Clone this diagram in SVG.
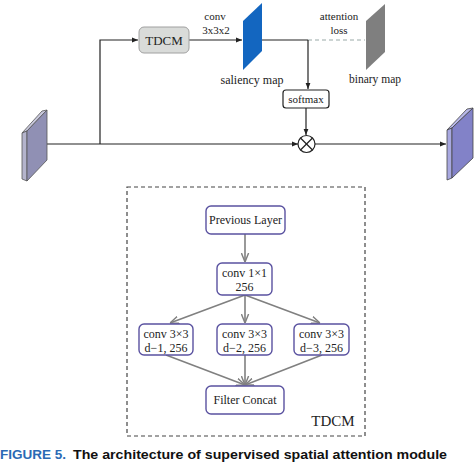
<svg xmlns="http://www.w3.org/2000/svg" width="474" height="463" viewBox="0 0 474 463">
<defs>
<marker id="ah" viewBox="0 0 10 10" refX="10" refY="5" markerWidth="6" markerHeight="6" orient="auto" markerUnits="userSpaceOnUse"><path d="M0,1 L10,5 L0,9 z" fill="#222"/></marker>
<marker id="ag" viewBox="0 0 10 10" refX="10" refY="5" markerWidth="9" markerHeight="9" orient="auto" markerUnits="userSpaceOnUse"><path d="M0,1 L10,5 L0,9" fill="none" stroke="#808080" stroke-width="1.6"/></marker>
</defs>
<style>
.t{font-family:"Liberation Serif","Times New Roman",serif;fill:#222;text-anchor:middle}
.ln{stroke:#222;stroke-width:1.2;fill:none}
.gl{stroke:#808080;stroke-width:1.6;fill:none}
.ib{fill:#fff;stroke:#5a52a0;stroke-width:1.4}
</style>
<rect width="474" height="463" fill="#fff"/>

<g id="connectors">
<line class="ln" x1="40" y1="144" x2="298" y2="144" marker-end="url(#ah)"/>
<polyline class="ln" points="100,144 100,40 138,40" marker-end="url(#ah)"/>
<line class="ln" x1="189" y1="40" x2="242" y2="40" marker-end="url(#ah)"/>
<line class="ln" x1="262" y1="40" x2="308" y2="40"/>
<line x1="308" y1="40" x2="365" y2="40" stroke="#9aaaa8" stroke-width="1.2" stroke-dasharray="4,3"/>
<line class="ln" x1="308" y1="40" x2="308" y2="89" marker-end="url(#ah)"/>
<line class="ln" x1="306" y1="108" x2="306" y2="135" marker-end="url(#ah)"/>
<line class="ln" x1="315" y1="144" x2="446" y2="144" marker-end="url(#ah)"/>
<line class="gl" x1="245" y1="234" x2="245" y2="262" marker-end="url(#ag)"/>
<line class="gl" x1="245" y1="295" x2="170" y2="323" marker-end="url(#ag)"/>
<line class="gl" x1="245" y1="295" x2="245" y2="323" marker-end="url(#ag)"/>
<line class="gl" x1="245" y1="295" x2="320" y2="323" marker-end="url(#ag)"/>
<line class="gl" x1="166" y1="355" x2="245" y2="385" marker-end="url(#ag)"/>
<line class="gl" x1="245" y1="355" x2="245" y2="385" marker-end="url(#ag)"/>
<line class="gl" x1="322" y1="355" x2="245" y2="385" marker-end="url(#ag)"/>
</g>

<g id="input-feature">
<polygon points="22,133 42,111 47,110 27,131" fill="#c8c8dc" stroke="#555" stroke-width="0.8"/>
<polygon points="22,133 27,131 27,181 22,179" fill="#b4b4cc" stroke="#555" stroke-width="0.8"/>
<polygon points="27,131 47,110 47,160 27,181" fill="#9090b4" stroke="#555" stroke-width="0.8"/>
</g>

<g id="output-feature">
<polygon points="447,130 467,109 473,108 452,128" fill="#b8b8e8" stroke="#444" stroke-width="0.8"/>
<polygon points="447,130 452,128 452,178 447,180" fill="#a8a8e0" stroke="#444" stroke-width="0.8"/>
<polygon points="452,128 473,108 473,158 452,178" fill="#8282c8" stroke="#444" stroke-width="0.8"/>
</g>

<g id="tdcm">
<rect x="139" y="27" width="50" height="26" rx="5" fill="#d9dbd9" stroke="#a0a0a0" stroke-width="1"/>
<text class="t" x="164" y="45" font-size="13">TDCM</text>
</g>

<g id="conv-label">
<text class="t" x="215" y="20" font-size="11">conv</text>
<text class="t" x="216" y="34" font-size="11">3x3x2</text>
</g>

<g id="saliency-map">
<polygon points="243,21 262,3 262,51 243,70" fill="#1366c0"/>
<text class="t" x="252" y="84" font-size="12">saliency map</text>
</g>

<g id="attention-loss">
<text class="t" x="339" y="20" font-size="11">attention</text>
<text class="t" x="339" y="34" font-size="11">loss</text>
</g>

<g id="binary-map">
<polygon points="366,21 385,4 385,52 366,70" fill="#7f7f7f"/>
<text class="t" x="375" y="83" font-size="11.5">binary map</text>
</g>

<g id="softmax">
<rect x="283" y="90" width="46" height="18" rx="3" fill="#fff" stroke="#222" stroke-width="1.2"/>
<text class="t" x="306" y="103" font-size="11">softmax</text>
</g>

<g id="multiply">
<circle cx="306.5" cy="144" r="8.5" fill="#fff" stroke="#222" stroke-width="1.2"/>
<line x1="300.5" y1="138" x2="312.5" y2="150" stroke="#222" stroke-width="1.2"/>
<line x1="312.5" y1="138" x2="300.5" y2="150" stroke="#222" stroke-width="1.2"/>
</g>

<g id="tdcm-detail">
<rect x="127" y="187" width="238" height="249" fill="none" stroke="#444" stroke-width="1.2" stroke-dasharray="4,3"/>
<text class="t" x="333" y="426" font-size="15">TDCM</text>
</g>

<g id="previous-layer">
<rect class="ib" x="206" y="206" width="79" height="28" rx="5"/>
<text class="t" x="245.5" y="224" font-size="12">Previous Layer</text>
</g>

<g id="conv1x1">
<rect class="ib" x="217" y="263" width="55" height="32" rx="5"/>
<text class="t" x="244.5" y="277" font-size="12">conv 1×1</text>
<text class="t" x="244.5" y="291" font-size="12">256</text>
</g>

<g id="conv3x3-d1">
<rect class="ib" x="139" y="324" width="54" height="31" rx="5"/>
<text class="t" x="166" y="338" font-size="12">conv 3×3</text>
<text class="t" x="166" y="352" font-size="12">d−1, 256</text>
</g>

<g id="conv3x3-d2">
<rect class="ib" x="217" y="324" width="55" height="31" rx="5"/>
<text class="t" x="244.5" y="338" font-size="12">conv 3×3</text>
<text class="t" x="244.5" y="352" font-size="12">d−2, 256</text>
</g>

<g id="conv3x3-d3">
<rect class="ib" x="294" y="324" width="55" height="31" rx="5"/>
<text class="t" x="321.5" y="338" font-size="12">conv 3×3</text>
<text class="t" x="321.5" y="352" font-size="12">d−3, 256</text>
</g>

<g id="filter-concat">
<rect class="ib" x="206" y="386" width="78" height="28" rx="5"/>
<text class="t" x="245" y="404" font-size="12">Filter Concat</text>
</g>

<g id="caption">
<text x="0" y="459" font-family="Liberation Sans, Arial, sans-serif" font-size="13.5" font-weight="bold"><tspan fill="#2a6ab5">FIGURE 5.</tspan><tspan x="73" fill="#111" textLength="374" lengthAdjust="spacingAndGlyphs">The architecture of supervised spatial attention module</tspan></text>
</g>
</svg>
